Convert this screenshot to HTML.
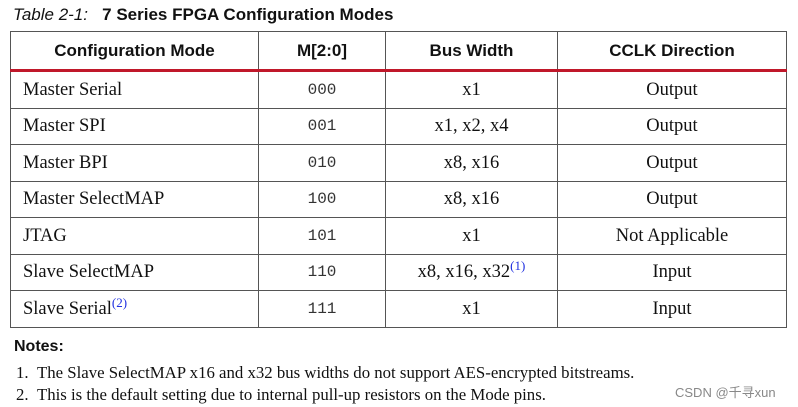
<!DOCTYPE html>
<html><head><meta charset="utf-8"><style>
body{margin:0;width:798px;height:407px;background:#fff;position:relative;overflow:hidden;font-family:"Liberation Serif",serif;color:#111}
.t{position:absolute;white-space:nowrap}
table{position:absolute;left:10px;top:31px;border-collapse:collapse;width:777px}
td,th{border:1px solid #555;text-align:center;font-size:18.5px;padding:0;height:35.5px;line-height:20px}
th{font-family:"Liberation Sans",sans-serif;font-weight:bold;font-size:17px;height:37px;border-bottom:3px solid #c0182a}
td.l{text-align:left;padding-left:12px}
.m{font-family:"Liberation Mono",monospace;font-size:16px;color:#333}
sup{color:#2030e0;font-size:13px;line-height:0;vertical-align:7px}
</style></head><body>
<div class="t" style="left:13px;top:5px;font-family:'Liberation Sans',sans-serif;font-size:17px"><i>Table 2-1:</i>&nbsp;&nbsp;&nbsp;<b>7 Series FPGA Configuration Modes</b></div>
<table>
<colgroup><col style="width:248px"><col style="width:127px"><col style="width:172px"><col></colgroup>
<tr><th>Configuration Mode</th><th>M[2:0]</th><th>Bus Width</th><th>CCLK Direction</th></tr>
<tr><td class="l">Master Serial</td><td class="m">000</td><td>x1</td><td>Output</td></tr>
<tr><td class="l">Master SPI</td><td class="m">001</td><td>x1, x2, x4</td><td>Output</td></tr>
<tr><td class="l">Master BPI</td><td class="m">010</td><td>x8, x16</td><td>Output</td></tr>
<tr><td class="l">Master SelectMAP</td><td class="m">100</td><td>x8, x16</td><td>Output</td></tr>
<tr><td class="l">JTAG</td><td class="m">101</td><td>x1</td><td>Not Applicable</td></tr>
<tr><td class="l">Slave SelectMAP</td><td class="m">110</td><td>x8, x16, x32<sup>(1)</sup></td><td>Input</td></tr>
<tr><td class="l">Slave Serial<sup>(2)</sup></td><td class="m">111</td><td>x1</td><td>Input</td></tr>
</table>
<div class="t" style="left:14px;top:338px;font-family:'Liberation Sans',sans-serif;font-weight:bold;font-size:16px">Notes:</div>
<div class="t" style="left:16px;top:363px;font-size:16.8px">1.&nbsp;&nbsp;The Slave SelectMAP x16 and x32 bus widths do not support AES-encrypted bitstreams.</div>
<div class="t" style="left:16px;top:385px;font-size:16.8px">2.&nbsp;&nbsp;This is the default setting due to internal pull-up resistors on the Mode pins.</div>
<div class="t" style="left:675px;top:382px;font-family:'Liberation Sans','Noto Sans CJK SC',sans-serif;font-size:13px;color:#888">CSDN @千寻xun</div>
</body></html>
